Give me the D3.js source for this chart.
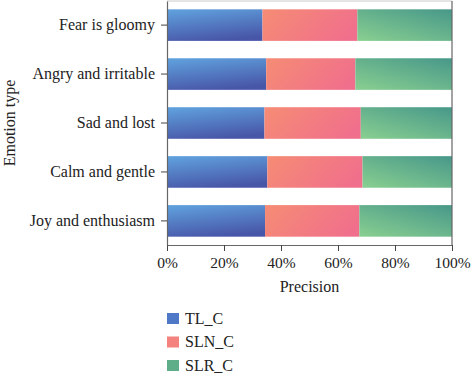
<!DOCTYPE html>
<html>
<head>
<meta charset="utf-8">
<script src="https://cdn.jsdelivr.net/npm/d3@7"></script>
<style>
  body { margin: 0; background: #fff; }
  svg { display: block; font-family: "Liberation Serif", "DejaVu Serif", serif; }
</style>
</head>
<body>
<div id="chart"></div>
<script>
// 类别与数据
var categories = ["Fear is gloomy", "Angry and irritable", "Sad and lost", "Calm and gentle", "Joy and enthusiasm"];
var seriesNames = ["TL_C", "SLN_C", "SLR_C"];
var tlValues = [33.5, 34.8, 34.2, 35.2, 34.4];
var slnValues = [33.3, 31.3, 33.8, 33.4, 33.1];
var slrValues = [33.2, 33.9, 32.0, 31.4, 32.5];
var xTicks = [0, 20, 40, 60, 80, 100];

let width = 474;
let height = 379;
var mLeft = 167, mRight = 452, mTop = 1, mBottom = 245;

var rows = categories.map(function (c, i) {
    return { cat: c, TL_C: tlValues[i], SLN_C: slnValues[i], SLR_C: slrValues[i] };
});
var stacked = d3.stack().keys(seriesNames).offset(d3.stackOffsetExpand)(rows);

var svg = d3.select("#chart").append("svg")
    .attr("width", width)
    .attr("height", height);

// 渐变
var defs = svg.append("defs");
function grad(id, x1, y1, x2, y2, c1, c2) {
    var g = defs.append("linearGradient").attr("id", id)
        .attr("x1", x1).attr("y1", y1).attr("x2", x2).attr("y2", y2);
    g.append("stop").attr("offset", "0%").attr("stop-color", c1);
    g.append("stop").attr("offset", "100%").attr("stop-color", c2);
}
grad("g-TL_C", "0.2", "0", "0.5", "1", "#5f9fdc", "#4856a8");
grad("g-SLN_C", "0", "0.3", "1", "0.6", "#f58a76", "#f06f8c");
grad("g-SLR_C", "0.1", "1", "0.9", "0", "#86cd90", "#4a9a8a");
var legendColor = { TL_C: "#4f79c6", SLN_C: "#f4827e", SLR_C: "#5fae8a" };

var xScale = d3.scaleLinear().domain([0, 1]).range([mLeft, mRight]);
var yScale = d3.scaleBand()
    .domain(categories)
    .range([mTop, mBottom])
    .paddingInner(0.355)
    .paddingOuter(0.17);

// 柱子
svg.append("g").selectAll("g")
    .data(stacked)
    .enter().append("g")
    .attr("fill", function (d) { return "url(#g-" + d.key + ")"; })
    .selectAll("rect")
    .data(function (d) { return d; })
    .enter().append("rect")
    .attr("x", function (d) { return xScale(d[0]); })
    .attr("y", function (d) { return yScale(d.data.cat); })
    .attr("width", function (d) { return xScale(d[1]) - xScale(d[0]); })
    .attr("height", yScale.bandwidth());

// 边框
svg.append("line").attr("x1", mLeft).attr("x2", mRight).attr("y1", mTop).attr("y2", mTop)
    .attr("stroke", "#ddd").attr("stroke-width", 1.5);
svg.append("line").attr("x1", mRight).attr("x2", mRight).attr("y1", mTop).attr("y2", mBottom)
    .attr("stroke", "#666").attr("stroke-width", 1.2);

// 坐标轴
var xAxis = svg.append("g")
    .attr("transform", "translate(0," + mBottom + ")")
    .call(d3.axisBottom(xScale).tickValues(xTicks.map(function (v) { return v / 100; }))
        .tickFormat(function (d) { return Math.round(d * 100) + "%"; })
        .tickSize(6).tickSizeOuter(0));
var yAxis = svg.append("g")
    .attr("transform", "translate(" + mLeft + ",0)")
    .call(d3.axisLeft(yScale).tickSize(6).tickSizeOuter(0));

[xAxis, yAxis].forEach(function (a) {
    a.select(".domain").attr("stroke", "#666").attr("stroke-width", 1.2);
    a.selectAll(".tick line").attr("stroke", "#444");
    a.selectAll("text").attr("font-family", "Liberation Serif, DejaVu Serif, serif")
        .attr("font-size", "16px").attr("fill", "#222");
});
xAxis.selectAll("text").attr("y", 12).attr("font-size", "15.5px");
yAxis.selectAll("text").attr("x", -12);

svg.append("text")
    .attr("x", (mLeft + mRight) / 2).attr("y", 292)
    .attr("text-anchor", "middle").attr("font-size", "16px").attr("fill", "#222")
    .text("Precision");
svg.append("text")
    .attr("transform", "translate(14.5," + ((mTop + mBottom) / 2) + ") rotate(-90)")
    .attr("text-anchor", "middle").attr("font-size", "16px").attr("fill", "#222")
    .text("Emotion type");

// 图例
var legend = svg.append("g").selectAll("g")
    .data(seriesNames)
    .enter().append("g")
    .attr("transform", function (d, i) { return "translate(167," + (313 + i * 23.5) + ")"; });
legend.append("rect").attr("width", 12).attr("height", 11)
    .attr("fill", function (d) { return legendColor[d]; });
legend.append("text").attr("x", 18).attr("y", 10.5)
    .attr("font-size", "16px").attr("fill", "#222")
    .text(function (d) { return d; });
</script>
</body>
</html>
